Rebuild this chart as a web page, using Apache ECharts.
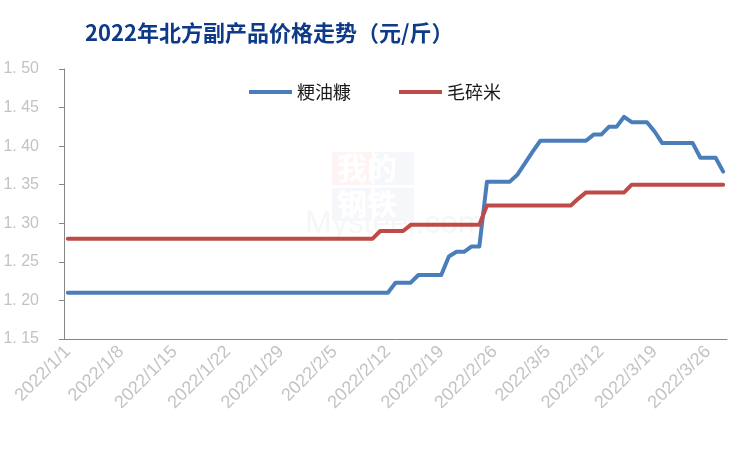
<!DOCTYPE html>
<html>
<head>
<meta charset="utf-8">
<script src="https://cdn.jsdelivr.net/npm/echarts@6/dist/echarts.min.js"></script>
<style>
  html, body { margin: 0; padding: 0; background: #fff; }
  #chart { width: 750px; height: 450px; }
</style>
</head>
<body>
<div id="chart"></div>
<script>
// daily categories 2022/1/1 .. 2022/3/28
const startDate = [2022, 0, 1];
const dayCount = 87;
const dates = [];
for (let i = 0; i < dayCount; i++) {
  const d = new Date(startDate[0], startDate[1], startDate[2] + i);
  dates.push(d.getFullYear() + "/" + (d.getMonth() + 1) + "/" + d.getDate());
}

const seriesNames = ["粳油糠", "毛碎米"];

// 粳油糠 (元/斤), one value per day
const bran = [
  1.21, 1.21, 1.21, 1.21, 1.21, 1.21, 1.21, 1.21, 1.21, 1.21,
  1.21, 1.21, 1.21, 1.21, 1.21, 1.21, 1.21, 1.21, 1.21, 1.21,
  1.21, 1.21, 1.21, 1.21, 1.21, 1.21, 1.21, 1.21, 1.21, 1.21,
  1.21, 1.21, 1.21, 1.21, 1.21, 1.21, 1.21, 1.21, 1.21, 1.21,
  1.21, 1.21, 1.21, 1.223, 1.223, 1.223, 1.233, 1.233, 1.233, 1.233,
  1.257, 1.263, 1.263, 1.27, 1.27, 1.354, 1.354, 1.354, 1.354, 1.363,
  1.378, 1.393, 1.407, 1.407, 1.407, 1.407, 1.407, 1.407, 1.407, 1.415,
  1.415, 1.425, 1.425, 1.438, 1.431, 1.431, 1.431, 1.419, 1.404, 1.404,
  1.404, 1.404, 1.404, 1.385, 1.385, 1.385, 1.367
];

// 毛碎米 (元/斤), one value per day
const brokenRice = [
  1.28, 1.28, 1.28, 1.28, 1.28, 1.28, 1.28, 1.28, 1.28, 1.28,
  1.28, 1.28, 1.28, 1.28, 1.28, 1.28, 1.28, 1.28, 1.28, 1.28,
  1.28, 1.28, 1.28, 1.28, 1.28, 1.28, 1.28, 1.28, 1.28, 1.28,
  1.28, 1.28, 1.28, 1.28, 1.28, 1.28, 1.28, 1.28, 1.28, 1.28,
  1.28, 1.29, 1.29, 1.29, 1.29, 1.298, 1.298, 1.298, 1.298, 1.298,
  1.298, 1.298, 1.298, 1.298, 1.298, 1.323, 1.323, 1.323, 1.323, 1.323,
  1.323, 1.323, 1.323, 1.323, 1.323, 1.323, 1.323, 1.332, 1.34, 1.34,
  1.34, 1.34, 1.34, 1.34, 1.35, 1.35, 1.35, 1.35, 1.35, 1.35,
  1.35, 1.35, 1.35, 1.35, 1.35, 1.35, 1.35
];

const yMin = 1.15;
const yMax = 1.5;
const yStep = 0.05;

const colors = ["#4a7ebb", "#be4b48"];
const axisGray = "#868686";
const labelGray = "#c3c3c3";

const chart = echarts.init(document.getElementById("chart"));

chart.setOption({
  color: colors,
  backgroundColor: "#fff",
  animation: false,
  title: {
    text: "2022年北方副产品价格走势（元/斤）",
    left: 80,
    top: 17,
    textStyle: {
      color: "#0f3a87",
      fontSize: 22,
      fontWeight: "bold",
      fontFamily: "Noto Sans CJK SC"
    }
  },
  legend: {
    data: seriesNames,
    left: 244,
    top: 78,
    icon: "rect",
    itemWidth: 43,
    itemHeight: 4,
    itemGap: 48,
    textStyle: {
      color: "#1a1a1a",
      fontSize: 18,
      fontFamily: "Noto Sans CJK SC"
    }
  },
  grid: {
    left: 64,
    right: 23,
    top: 69,
    bottom: 111
  },
  graphic: [
    // faint Mysteel watermark
    { type: "text", left: 305, top: 208, style: { text: "Mysteel.com", fill: "#f6f6f6", font: "32px Arial" }, z: 0 },
    { type: "rect", left: 332, top: 152, shape: { width: 40, height: 33 }, style: { fill: "#fff4f4" }, z: 0 },
    { type: "rect", left: 374, top: 152, shape: { width: 40, height: 33 }, style: { fill: "#f6f7fb" }, z: 0 },
    { type: "rect", left: 332, top: 188, shape: { width: 40, height: 33 }, style: { fill: "#f6f7fb" }, z: 0 },
    { type: "rect", left: 374, top: 188, shape: { width: 40, height: 33 }, style: { fill: "#f6f7fb" }, z: 0 },
    { type: "text", left: 337, top: 153, style: { text: "我的", fill: "#fff", font: "bold 30px 'Noto Sans CJK SC'" }, z: 0 },
    { type: "text", left: 337, top: 189, style: { text: "钢铁", fill: "#fff", font: "bold 30px 'Noto Sans CJK SC'" }, z: 0 }
  ],
  xAxis: {
    type: "category",
    data: dates,
    boundaryGap: true,
    axisLine: { lineStyle: { color: axisGray, width: 1 } },
    axisTick: { interval: 6, length: 5, lineStyle: { color: axisGray } },
    axisLabel: {
      interval: 6,
      rotate: 45,
      margin: 10,
      color: labelGray,
      fontSize: 18,
      fontFamily: "Liberation Sans"
    },
    splitLine: { show: false }
  },
  yAxis: {
    type: "value",
    min: yMin,
    max: yMax,
    interval: yStep,
    axisLine: { show: true, lineStyle: { color: axisGray, width: 1 } },
    axisTick: { show: true, length: 5, lineStyle: { color: axisGray } },
    axisLabel: {
      margin: 25,
      color: labelGray,
      fontSize: 16,
      fontFamily: "Liberation Sans",
      formatter: function (v) {
        return v.toFixed(2).replace(".", ". ");
      }
    },
    splitLine: { show: false }
  },
  series: [
    {
      name: seriesNames[0],
      type: "line",
      data: bran,
      symbol: "none",
      z: 3,
      lineStyle: { width: 4, cap: "round", join: "round" }
    },
    {
      name: seriesNames[1],
      type: "line",
      data: brokenRice,
      symbol: "none",
      z: 3,
      lineStyle: { width: 4, cap: "round", join: "round" }
    }
  ]
});
</script>
</body>
</html>
